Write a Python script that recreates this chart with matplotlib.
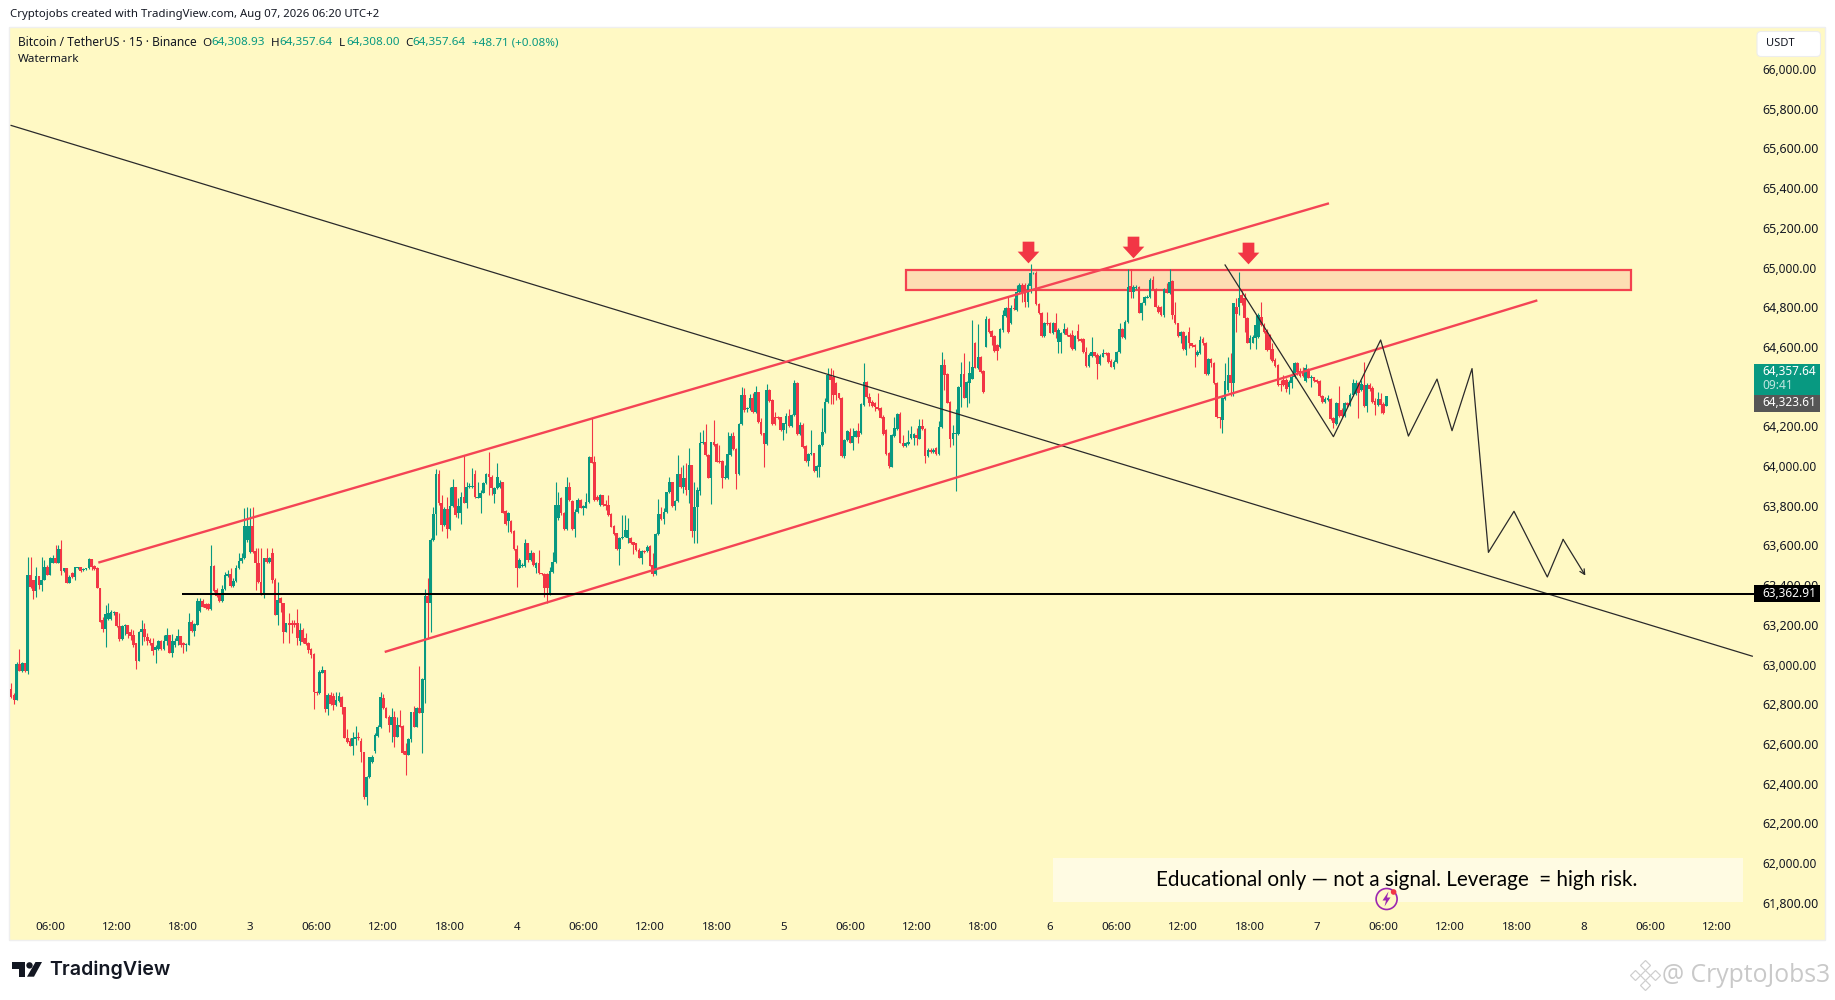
import numpy as np
import matplotlib
matplotlib.use("Agg")
import matplotlib.pyplot as plt
from matplotlib.patches import Rectangle, Circle, Polygon, FancyBboxPatch
from matplotlib.path import Path
from matplotlib.transforms import ScaledTranslation

# ---------- data (15-minute candles, BTC/USDT) ----------
first_bar = 10
is_up = ("rrgrgrgrrg" "rggrggrgrg" "rgrggrgggr" "rrrrggggrr" "ggrrrrggrr"
         "rrggrggrgg" "grrggrgggr" "rrgrrrgggr" "gggggggrrr" "rgrgrrgrrg"
         "rrrrgrrrrr" "rggrgrrggr" "rrrggrrrgg" "ggggrrrgrg" "rrrggrgrgg"
         "rgggrrgrgg" "rggrgggrgg" "ggrrgggrrg" "rrrgggrgrg" "rrrrggggrr"
         "grrggrgggr" "rrgrrrrrrg" "gggrrrrgrg" "rrggrgggrg" "grgrgrgggg"
         "rrgrrrrggg" "rrggrggrgr" "rrgrrrrrgg" "rggrgrrggr" "gggggrrrrr"
         "ggrggrggrr" "rrrrrrrggg" "rrggggrgrr" "grgrggrrrg" "gggrgggrgr"
         "rgrrrrgggr" "grggrrgggr" "rrgrrgrggg" "rrrgrrrrgg" "rrggrrrggg"
         "rggrggrggg" "grrrrgrgrr" "rgrgrrrggr" "rgrrrrgggr" "grgrrrgggg"
         "rrrrrrrrrr" "gggrrrgrgr" "rrrggrrgrr" "grgggrgrgr" "rrgrrg")

body_tops = [
62885,62850,63009,63009,63016,63012,63457,63457,63432,63452,
63452,63432,63496,63496,63543,63543,63543,63588,63588,63491,
63491,63449,63469,63496,63496,63496,63488,63491,63538,63538,
63503,63491,63389,63231,63261,63264,63269,63273,63269,63202,
63202,63205,63205,63172,63155,63113,63172,63185,63185,63147,
63127,63113,63096,63125,63125,63125,63155,63153,63122,63125,
63150,63150,63113,63108,63219,63219,63209,63328,63328,63328,
63311,63311,63503,63503,63382,63362,63387,63457,63462,63462,
63429,63491,63528,63541,63704,63704,63704,63704,63580,63516,
63424,63541,63545,63545,63566,63432,63331,63340,63315,63214,
63214,63217,63214,63214,63180,63180,63138,63113,63083,63059,
62870,62967,62979,62979,62853,62853,62845,62828,62845,62841,
62794,62635,62623,62635,62640,62643,62621,62566,62438,62539,
62539,62651,62690,62840,62836,62786,62744,62744,62744,62702,
62702,62698,62568,62630,62767,62767,62786,62786,62934,63352,
63352,63634,63765,63966,63966,63818,63788,63788,63805,63899,
63899,63805,63852,63852,63902,63906,63906,63966,63852,63872,
63919,63966,63966,63949,63894,63949,63922,63924,63781,63768,
63731,63679,63587,63533,63508,63617,63617,63570,63570,63519,
63516,63466,63462,63462,63477,63521,63810,63810,63844,63768,
63902,63902,63831,63772,63835,63835,63804,63826,64049,64049,
64028,63848,63860,63860,63814,63809,63762,63704,63667,63645,
63650,63683,63683,63641,63621,63616,63583,63578,63579,63600,
63605,63507,63662,63762,63762,63776,63873,63924,63924,63831,
63964,63964,63944,63944,64011,64011,63798,63885,64120,64125,
64125,64063,64125,64125,64115,64031,64031,63952,64066,64157,
64157,64091,64217,64363,64363,64296,64347,64347,64377,64377,
64229,64170,64389,64389,64338,64251,64251,64251,64221,64259,
64259,64263,64426,64426,64212,64212,64107,64066,64070,64070,
64006,64112,64179,64330,64464,64464,64456,64426,64372,64347,
64137,64182,64179,64157,64182,64182,64318,64431,64431,64355,
64330,64322,64305,64296,64254,64187,64073,64162,64196,64268,
64268,64123,64120,64128,64165,64165,64162,64207,64207,64191,
64086,64086,64086,64095,64201,64515,64515,64469,64330,64170,
64170,64405,64469,64469,64431,64473,64503,64627,64553,64557,
64486,64746,64746,64686,64661,64615,64696,64767,64800,64800,
64800,64800,64881,64918,64918,64918,64918,64977,64980,64977,
64822,64779,64725,64725,64725,64725,64725,64691,64675,64695,
64696,64666,64666,64661,64688,64644,64644,64582,64565,64579,
64579,64565,64560,64577,64574,64574,64537,64532,64579,64695,
64695,64730,64910,64913,64910,64910,64906,64826,64856,64859,
64943,64943,64896,64809,64806,64896,64896,64935,64940,64767,
64725,64683,64683,64661,64683,64624,64616,64582,64641,64644,
64624,64544,64544,64527,64426,64252,64347,64434,64465,64465,
64826,64809,64851,64868,64854,64750,64649,64654,64717,64767,
64755,64717,64688,64666,64594,64540,64515,64419,64440,64440,
64428,64456,64527,64523,64485,64482,64498,64493,64456,64453,
64440,64436,64359,64342,64347,64342,64246,64325,64322,64288,
64322,64322,64364,64426,64423,64423,64419,64414,64414,64414,
64401,64335,64342,64342,64319,64357]

body_bottoms = [
62844,62828,62828,62975,62975,62975,62975,63395,63377,63378,
63407,63407,63432,63457,63457,63516,63519,63519,63479,63479,
63419,63419,63449,63446,63493,63479,63483,63486,63491,63499,
63488,63389,63222,63185,63185,63234,63234,63264,63202,63135,
63135,63200,63160,63150,63105,63026,63026,63172,63143,63122,
63113,63076,63080,63085,63085,63085,63122,63066,63066,63105,
63122,63105,63105,63105,63105,63175,63175,63205,63276,63298,
63289,63286,63284,63377,63353,63326,63326,63387,63454,63404,
63404,63429,63491,63528,63541,63634,63575,63575,63516,63424,
63360,63360,63521,63521,63432,63256,63256,63315,63172,63172,
63205,63206,63206,63138,63122,63118,63108,63080,63054,62865,
62861,62860,62965,62782,62782,62808,62803,62803,62824,62791,
62635,62618,62596,62596,62633,62635,62564,62336,62336,62437,
62517,62568,62646,62690,62786,62739,62702,62702,62643,62643,
62693,62559,62551,62551,62630,62693,62693,62764,62764,62929,
63318,63318,63634,63765,63818,63709,63709,63689,63689,63805,
63760,63768,63771,63822,63822,63899,63902,63849,63847,63847,
63872,63919,63949,63894,63865,63894,63902,63771,63714,63731,
63676,63587,63494,63494,63504,63504,63533,63533,63508,63494,
63466,63462,63390,63390,63360,63474,63521,63743,63768,63689,
63689,63835,63687,63687,63772,63796,63796,63796,63826,64023,
63835,63835,63809,63809,63804,63759,63700,63662,63588,63588,
63645,63650,63641,63616,63608,63583,63544,63541,63574,63578,
63504,63462,63462,63662,63739,63739,63776,63873,63804,63804,
63831,63902,63902,63885,63885,63680,63680,63798,63882,64120,
64063,63947,63947,64112,64028,64028,63944,63944,63947,64063,
64090,63966,63966,64216,64288,64291,64296,64276,64276,64229,
64167,64117,64117,64335,64217,64217,64246,64187,64187,64217,
64207,64207,64263,64167,64167,64103,64031,64031,64066,63982,
63982,64002,64112,64179,64330,64439,64363,64363,64347,64058,
64056,64137,64123,64123,64154,64154,64170,64313,64352,64322,
64308,64301,64291,64249,64167,64066,64006,64002,64157,64191,
64123,64108,64108,64117,64147,64147,64147,64144,64191,64058,
64058,64075,64078,64066,64066,64201,64464,64325,64140,64140,
64167,64167,64405,64350,64350,64426,64447,64501,64499,64481,
64380,64607,64682,64657,64587,64587,64606,64691,64762,64683,
64728,64795,64792,64881,64876,64834,64834,64915,64977,64822,
64775,64661,64663,64720,64678,64678,64683,64633,64633,64675,
64666,64658,64596,64596,64644,64638,64582,64512,64512,64562,
64560,64520,64520,64557,64570,64532,64507,64503,64528,64579,
64654,64649,64730,64884,64884,64905,64779,64779,64826,64854,
64856,64896,64809,64784,64767,64767,64879,64876,64767,64725,
64661,64661,64594,64591,64624,64611,64607,64566,64574,64624,
64470,64470,64524,64423,64252,64246,64238,64344,64389,64423,
64423,64772,64809,64826,64750,64628,64628,64628,64649,64654,
64717,64683,64591,64591,64537,64512,64414,64414,64414,64394,
64403,64423,64453,64482,64460,64460,64436,64451,64448,64436,
64431,64359,64330,64330,64339,64243,64221,64218,64258,64258,
64258,64314,64314,64364,64369,64372,64389,64310,64310,64393,
64330,64314,64314,64314,64272,64309]

wick_highs = [
62912,62860,63021,63085,63021,63016,63546,63546,63432,63499,
63452,63546,63533,63508,63550,63558,63608,63608,63634,63494,
63491,63457,63474,63496,63499,63499,63491,63494,63543,63538,
63508,63499,63389,63247,63306,63315,63281,63276,63269,63264,
63205,63209,63205,63185,63180,63113,63175,63231,63214,63164,
63138,63138,63105,63130,63130,63155,63189,63155,63160,63138,
63185,63150,63117,63113,63264,63231,63214,63340,63340,63335,
63318,63318,63608,63508,63390,63368,63407,63474,63483,63491,
63440,63508,63566,63566,63795,63802,63795,63802,63592,63592,
63592,63541,63592,63550,63592,63440,63420,63348,63315,63217,
63268,63231,63231,63284,63214,63189,63167,63117,63088,63063,
62875,62979,62999,62979,62861,62870,62861,62870,62870,62845,
62794,62680,62635,62668,62697,62668,62635,62566,62442,62542,
62551,62660,62702,62865,62858,62791,62752,62786,62774,62744,
62777,62702,62610,62635,62769,62798,62791,62999,62937,63385,
63441,63642,63798,63990,63986,63860,63802,63852,63899,63939,
63902,63844,63877,64062,63927,63919,63995,63986,63927,63886,
63927,63973,64079,63961,63902,64020,63936,63927,63785,63776,
63734,63684,63609,63541,63516,63637,63620,63583,63575,63525,
63583,63469,63469,63469,63499,63575,63924,63877,63852,63776,
63949,63927,63835,63788,63843,63838,63809,63872,64056,64246,
64056,63860,63863,63860,63835,63860,63767,63709,63670,63650,
63759,63759,63742,63647,63625,63620,63591,63583,63583,63608,
63608,63566,63667,63840,63801,63793,63877,63949,63927,63835,
64061,64002,64011,64019,64095,64011,63927,63898,64179,64190,
64217,64066,64128,64238,64120,64112,64036,64011,64179,64174,
64179,64095,64221,64402,64397,64305,64368,64372,64409,64380,
64246,64174,64419,64392,64342,64279,64258,64254,64224,64271,
64291,64266,64439,64429,64229,64224,64112,64070,64190,64073,
64011,64117,64296,64347,64498,64498,64489,64431,64375,64352,
64140,64187,64196,64196,64187,64221,64322,64526,64434,64372,
64338,64330,64372,64301,64263,64191,64078,64165,64254,64271,
64280,64162,64128,64187,64207,64170,64196,64241,64241,64196,
64095,64095,64095,64103,64234,64582,64543,64473,64333,64212,
64291,64409,64531,64577,64434,64535,64741,64632,64724,64560,
64489,64763,64750,64691,64666,64620,64703,64792,64805,64859,
64817,64851,64918,64930,64926,64926,64926,65022,64985,64990,
64826,64784,64733,64784,64733,64733,64775,64700,64683,64725,
64705,64675,64691,64666,64722,64649,64649,64607,64574,64654,
64582,64574,64570,64594,64582,64579,64544,64540,64587,64725,
64700,64742,64997,64997,64918,64918,64913,64834,64863,64868,
64952,64965,64901,64817,64812,64901,64926,64997,64943,64834,
64728,64688,64686,64666,64708,64628,64621,64591,64661,64658,
64633,64549,64549,64532,64431,64255,64356,64527,64554,64577,
64826,64851,64982,64893,64876,64759,64666,64666,64767,64775,
64831,64725,64695,64671,64624,64549,64520,64440,64465,64448,
64440,64473,64532,64532,64498,64507,64520,64498,64465,64456,
64443,64440,64364,64352,64364,64347,64255,64330,64409,64297,
64330,64330,64372,64443,64440,64431,64440,64532,64423,64423,
64409,64347,64381,64372,64330,64357]

wick_lows = [
62836,62808,62828,62974,62970,62970,62959,63390,63335,63348,
63385,63378,63432,63457,63457,63516,63516,63519,63457,63474,
63415,63415,63440,63432,63486,63474,63479,63483,63486,63483,
63483,63389,63222,63168,63096,63231,63231,63256,63197,63125,
63130,63155,63138,63130,63096,62982,63026,63105,63122,63105,
63105,63054,63012,63080,63080,63080,63105,63063,63046,63096,
63105,63096,63066,63076,63105,63172,63150,63205,63273,63294,
63284,63281,63281,63373,63348,63323,63323,63382,63449,63399,
63399,63424,63486,63516,63536,63625,63566,63566,63382,63415,
63357,63343,63516,63516,63415,63256,63205,63273,63113,63172,
63113,63164,63197,63105,63105,63113,63105,63063,63038,62782,
62853,62856,62962,62766,62752,62803,62777,62798,62819,62757,
62635,62610,62593,62551,62601,62626,62517,62327,62299,62433,
62509,62562,62643,62685,62781,62735,62668,62618,62588,62640,
62690,62556,62447,62551,62615,62690,62690,62761,62562,62811,
63133,63172,63630,63659,63810,63679,63704,63642,63684,63798,
63751,63743,63714,63818,63793,63894,63897,63844,63844,63768,
63869,63914,63860,63860,63818,63889,63897,63768,63709,63676,
63671,63583,63395,63491,63499,63499,63525,63530,63503,63469,
63462,63457,63348,63318,63357,63469,63516,63734,63760,63684,
63684,63831,63683,63650,63767,63793,63759,63793,63821,64019,
63831,63831,63804,63804,63784,63754,63697,63658,63584,63507,
63640,63647,63616,63611,63563,63579,63541,63512,63569,63571,
63502,63453,63458,63658,63734,63712,63771,63868,63801,63784,
63826,63893,63868,63860,63821,63650,63616,63620,63860,64115,
64058,63944,63814,64108,64024,64023,63897,63939,63942,64058,
64086,63890,63961,64211,64279,64279,64288,64271,64271,64224,
64162,64000,64112,64330,64212,64212,64241,64182,64137,64170,
64204,64204,64258,64162,64162,64098,64028,64006,64061,63977,
63952,63949,64107,64174,64325,64321,64321,64338,64342,64053,
64048,64132,64120,64086,64150,64120,64167,64308,64347,64308,
64305,64285,64288,64246,64162,64061,63997,64000,64154,64187,
64120,64103,64103,64112,64144,64112,64112,64140,64187,64019,
64053,64070,64073,64061,64061,64196,64389,64322,64103,64112,
63882,64162,64305,64347,64305,64322,64444,64498,64496,64476,
64375,64604,64677,64615,64582,64540,64599,64683,64755,64678,
64722,64792,64787,64876,64834,64809,64809,64876,64972,64817,
64772,64658,64658,64715,64675,64671,64649,64577,64577,64670,
64661,64607,64591,64591,64638,64633,64577,64507,64507,64557,
64557,64443,64515,64554,64565,64527,64503,64493,64523,64574,
64649,64644,64725,64851,64851,64896,64775,64742,64817,64851,
64851,64893,64806,64779,64762,64759,64876,64871,64745,64722,
64658,64624,64591,64566,64599,64607,64503,64560,64569,64616,
64465,64465,64507,64419,64246,64196,64174,64339,64381,64359,
64359,64683,64767,64817,64683,64624,64594,64624,64594,64649,
64712,64678,64587,64544,64532,64507,64409,64386,64409,64381,
64367,64397,64448,64465,64456,64456,64431,64448,64406,64431,
64423,64356,64325,64325,64335,64238,64196,64213,64255,64255,
64255,64305,64309,64359,64364,64250,64386,64305,64280,64386,
64325,64263,64309,64275,64269,64308]

price_ticks = [p for p in range(61800, 66001, 200) if p != 64400]  # 64,400 sits under the tags
heavy_prices = [62000, 63000, 64000, 65000, 66000]
time_ticks = list(range(24, 625, 24))
time_labels = []
for _day in ["3", "4", "5", "6", "7", "8"]:
    time_labels += ["06:00", "12:00", "18:00", _day]
time_labels = (time_labels + ["06:00", "12:00"])

# chart drawings: (bar number, price)
channel_upper = ([41.8, 484], [63521, 65328])
channel_lower = ([144.9, 559], [63071, 64839])
diagonal = ([9.8, 637], [65723, 63047])
level_x0, level_price = 71.7, 63362.91
zone = (332, 593, 64893, 64993)
arrow_bars = [376.2, 414.0, 455.2]
arrow_prices = [65085, 65110, 65079]
path_bars = [447, 486, 503, 513, 523.3, 528.7, 535.9, 541.8, 551, 563, 568.7, 576.7]
path_prices = [65019, 64154, 64641, 64157, 64444, 64184, 64497, 63571, 63778, 63447, 63636, 63454]

# ---------- style ----------
YELLOW = "#FFF9C4"
GREEN = "#089981"
RED = "#F23645"
DARK = "#131722"
FONT = ["Noto Sans", "DejaVu Sans"]
plt.rcParams["font.family"] = FONT

W, H = 1835, 1000
fig = plt.figure(figsize=(W / 100, H / 100), dpi=100, facecolor="white")

bg = fig.add_axes([0, 0, 1, 1], zorder=0)
bg.set_xlim(0, W); bg.set_ylim(H, 0); bg.axis("off")
bg.add_patch(Rectangle((9, 27), 1816, 913, fc=YELLOW, ec="#EFEFEF", lw=1))

ax = fig.add_axes([9 / W, (H - 940) / H, (1754 - 9) / W, 913 / H], zorder=1)
ax.set_facecolor(YELLOW)
ax.patch.set_alpha(0)
ax.set_xlim(9.25, 637.4)
ax.set_ylim(61618, 66218)
for s in ax.spines.values():
    s.set_visible(False)

n = len(body_tops)
assert n == len(body_bottoms) == len(wick_highs) == len(wick_lows) == len(is_up), (
    n, len(body_bottoms), len(wick_highs), len(wick_lows), len(is_up))
bars = np.arange(first_bar, first_bar + n)
tops = np.array(body_tops, float)
bots = np.array(body_bottoms, float)
hi = np.maximum(np.array(wick_highs, float), tops)
lo = np.minimum(np.array(wick_lows, float), bots)
colors = [GREEN if c == "g" else RED for c in is_up]

ax.add_patch(Rectangle((zone[0], zone[2]), zone[1] - zone[0], zone[3] - zone[2],
                       fc="#FDDDB3", ec="#F4424F", lw=1.6, zorder=1))
ax.vlines(bars, lo, hi, colors=colors, lw=0.8, zorder=2)
ax.bar(bars, np.maximum(tops - bots, 3), bottom=bots, width=0.95, color=colors, lw=0, zorder=3)

ax.plot(*diagonal, color="#2A2A2A", lw=0.9, zorder=4, solid_capstyle="butt")
ax.plot(*channel_upper, color="#F44455", lw=1.7, zorder=4)
ax.plot(*channel_lower, color="#F44455", lw=1.7, zorder=4)
ax.plot([level_x0, 637.4], [level_price, level_price], color="black", lw=1.45, zorder=5,
        solid_capstyle="butt")
ax.plot(path_bars[:-1], path_prices[:-1], color="#2A2A2A", lw=0.9, zorder=5)
ax.annotate("", xy=(path_bars[-1], path_prices[-1]), xytext=(path_bars[-2], path_prices[-2]),
            arrowprops=dict(arrowstyle="->", color="#2A2A2A", lw=0.9, shrinkA=0, shrinkB=0,
                            mutation_scale=9), zorder=5)

arrow_shape = Path([(-0.54, 1), (0.54, 1), (0.54, 0.08), (1, 0.08), (0, -1), (-1, 0.08),
                    (-0.54, 0.08), (-0.54, 1)], closed=True)
ax.plot(arrow_bars, arrow_prices, ls="none", marker=arrow_shape, ms=15.6, mfc="#F23645", mec="none",
        zorder=6)

ax.set_yticks(price_ticks)
ax.set_yticklabels([f"{p:,.2f}" for p in price_ticks], fontsize=8.9, color=DARK)
ax.yaxis.tick_right()
ax.tick_params(axis="y", length=0, pad=6.2)
up_1px = ScaledTranslation(0, 1.2 / 100, fig.dpi_scale_trans)
for lab, p in zip(ax.get_yticklabels(), price_ticks):
    lab.set_transform(lab.get_transform() + up_1px)
    if p in heavy_prices:
        lab.set_fontweight("semibold")
        lab.set_fontsize(8.5)
ax.set_xticks(time_ticks)
ax.set_xticklabels(time_labels, fontsize=8.3, color=DARK)
ax.tick_params(axis="x", length=0, pad=-13)

ov = fig.add_axes([0, 0, 1, 1], zorder=5)
ov.set_xlim(0, W); ov.set_ylim(H, 0); ov.axis("off")


def txt(x, y, s, size=8.3, color=DARK, **kw):
    kw.setdefault("va", "center")
    return ov.text(x, y, s, fontsize=size, color=color, **kw)


txt(9.5, 15, "Cryptojobs created with TradingView.com, Aug 07, 2026 06:20 UTC+2", size=8.2)
txt(18, 43, "Bitcoin / TetherUS · 15 · Binance", size=8.6)
for x_l, l, x_v, v in [(202.5, "O", 211, "64,308.93"), (270.5, "H", 279, "64,357.64"),
                       (339, "L", 346, "64,308.00"), (405, "C", 412, "64,357.64")]:
    txt(x_l, 43, l, size=8.4)
    txt(x_v, 43, v, size=8.4, color=GREEN)
txt(472, 43, "+48.71 (+0.08%)", size=8.4, color=GREEN)
txt(18, 60, "Watermark", size=8.4)

ov.add_patch(FancyBboxPatch((1758.5, 33), 60.5, 22, boxstyle="round,pad=1.5,rounding_size=4",
                            fc="white", ec="#EDEDED", lw=0.8))
txt(1766, 44, "USDT", size=8.0)

ov.add_patch(Rectangle((1754, 364), 66, 31, fc=GREEN, ec="none"))
txt(1762, 371.5, "64,357.64", size=8.5, color="white", weight="semibold")
txt(1762, 385.5, "09:41", size=8.6, color="#BFE6DF")
ov.add_patch(Rectangle((1754, 395), 66, 16.5, fc="#565656", ec="none"))
txt(1762, 403, "64,323.61", size=8.5, color="white", weight="semibold")
ov.add_patch(Rectangle((1754, 585.4), 66, 17, fc="black", ec="none"))
txt(1762, 593.5, "63,362.91", size=8.5, color="white", weight="semibold")

ov.add_patch(Rectangle((1053, 858), 690, 43.7, fc="#FFFBE3", ec="none"))
ov.text(1397, 880, "Educational only — not a signal. Leverage  = high risk.", fontsize=14.9,
        family="Lato", color="black", ha="center", va="center")

ov.add_patch(Circle((1386.6, 899), 10.5, fc="#FFF9C4", ec="#9C27B0", lw=1.2, zorder=6))
ov.add_patch(Polygon([(1388.5, 891.5), (1382.5, 900.5), (1386, 900.5), (1384.5, 906.5),
                      (1390.5, 897.5), (1387, 897.5)], closed=True, fc="#9C27B0", ec="none", zorder=7))
ov.add_patch(Circle((1393.6, 892), 2.8, fc=RED, ec="none", zorder=8))

ov.add_patch(Polygon([(12, 962), (25, 962), (25, 976.7), (19, 976.7), (19, 968.5), (12, 968.5)],
                     closed=True, fc="#131722", ec="none"))
ov.add_patch(Circle((29.5, 965.4), 3.2, fc="#131722", ec="none"))
ov.add_patch(Polygon([(35.5, 962), (42, 962), (34, 976.7), (27, 976.7)], closed=True,
                     fc="#131722", ec="none"))
ov.text(49, 969.5, "TradingView", fontsize=14.1, family="Inter", weight="semibold",
        color="#131722", va="center")

for dx, dy in [(0, -10), (0, 10), (-10, 0), (10, 0), (0, 0)]:
    ov.plot(1645 + dx, 975 + dy, marker="D", ms=5.6, mfc="none", mec="#CFCFCF", mew=0.9)
ov.text(1662, 975, "@ CryptoJobs3", fontsize=17.8, family="Open Sans", color="#C9C9C9",
        va="center", clip_on=False)

fig.savefig("out.png", dpi=100, facecolor="white")
